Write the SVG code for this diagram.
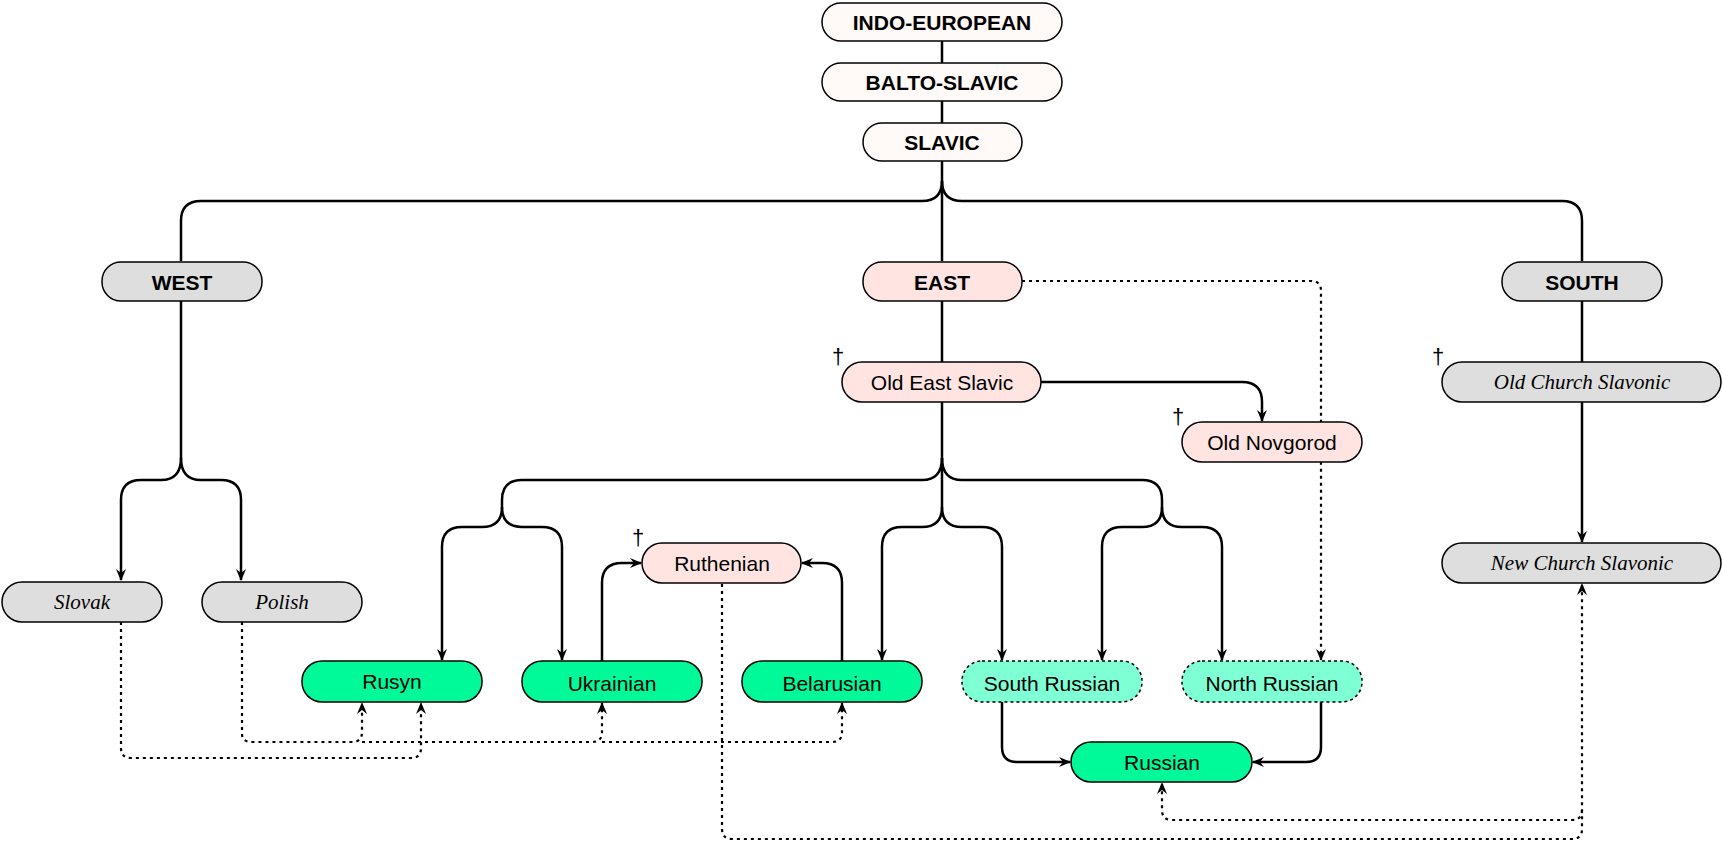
<svg xmlns="http://www.w3.org/2000/svg" width="1723" height="844" viewBox="0 0 1723 844">
<style>
rect{stroke:#000;stroke-width:1.5}
.top{fill:#fff9f7}.pk{fill:#ffe4e1}.gr{fill:#dedede}.gn{fill:#00fa9a}.aq{fill:#7fffd4;stroke-dasharray:3,3}
text{font-family:"Liberation Sans",Arial,sans-serif;font-size:21px;text-anchor:middle;dominant-baseline:central}
.b{font-weight:bold}
.i{font-family:"Liberation Serif","Times New Roman",serif;font-style:italic}
.d{font-size:22px;text-anchor:start}
.c path,.c line{fill:none;stroke:#000;stroke-width:2.5}
.c .ds{stroke-dasharray:3,4;stroke-width:2.2}
</style>
<defs>
<marker id="a" viewBox="0 0 12 10" refX="11" refY="5" markerWidth="12" markerHeight="10" markerUnits="userSpaceOnUse" orient="auto">
<path d="M0,0 L12,5 L0,10 L4,5 Z" fill="#000"/>
</marker>
</defs>
<g class="c">
<line x1="942" y1="41" x2="942" y2="63"/>
<line x1="942" y1="101" x2="942" y2="123"/>
<line x1="942" y1="161" x2="942" y2="261"/>
<path d="M942,181 q0,20 -20,20 H201 q-20,0 -20,20 V261"/>
<path d="M942,181 q0,20 20,20 H1562 q20,0 20,20 V261"/>
<line x1="942" y1="301" x2="942" y2="362"/>
<path d="M181,301 V458 q0,22 -20,22 h-20 q-20,0 -20,20 V580" marker-end="url(#a)"/>
<path d="M181,458 q0,22 20,22 h20 q20,0 20,20 V580" marker-end="url(#a)"/>
<path d="M1041,382 H1242 q20,0 20,20 V421" marker-end="url(#a)"/>
<line x1="942" y1="402" x2="942" y2="507"/>
<path d="M942,458 q0,22 -20,22 H522 q-20,0 -20,20 V507"/>
<path d="M942,458 q0,22 20,22 H1142 q20,0 20,20 V507"/>
<path d="M502,507 q0,20 -20,20 h-20 q-20,0 -20,20 V660" marker-end="url(#a)"/>
<path d="M502,507 q0,20 20,20 h20 q20,0 20,20 V660" marker-end="url(#a)"/>
<path d="M942,507 q0,20 -20,20 h-20 q-20,0 -20,20 V660" marker-end="url(#a)"/>
<path d="M942,507 q0,20 20,20 h20 q20,0 20,20 V660" marker-end="url(#a)"/>
<path d="M1162,507 q0,20 -20,20 h-20 q-20,0 -20,20 V660" marker-end="url(#a)"/>
<path d="M1162,507 q0,20 20,20 h20 q20,0 20,20 V660" marker-end="url(#a)"/>
<path d="M602,661 V583 q0,-20 20,-20 H641" marker-end="url(#a)"/>
<path d="M842,661 V583 q0,-20 -20,-20 H802" marker-end="url(#a)"/>
<path d="M1002,702 V747 q0,15 15,15 H1070" marker-end="url(#a)"/>
<path d="M1321,702 V747 q0,15 -15,15 H1253" marker-end="url(#a)"/>
<line x1="1582" y1="301" x2="1582" y2="362"/>
<line x1="1582" y1="402" x2="1582" y2="542" marker-end="url(#a)"/>
<path class="ds" d="M1022,281 H1311 q10,0 10,10 V660" marker-end="url(#a)"/>
<path class="ds" d="M121,622 V748 q0,10 10,10 H411 q10,0 10,-10 V703" marker-end="url(#a)"/>
<path class="ds" d="M242,622 V734 q0,8 10,8 H352 q10,0 10,-10 V703" marker-end="url(#a)"/>
<path class="ds" d="M362,742 H592 q10,0 10,-10 V703" marker-end="url(#a)"/>
<path class="ds" d="M602,742 H832 q10,0 10,-10 V703" marker-end="url(#a)"/>
<path class="ds" d="M722,584 V829 q0,10 10,10 H1572 q10,0 10,-10 V584" marker-end="url(#a)"/>
<path class="ds" d="M1582,810 q0,10 -10,10 H1172 q-10,0 -10,-10 V783" marker-end="url(#a)"/>
</g>
<g id="indo-european"><rect class="top" x="822" y="3" width="240" height="38" rx="19"/><text class="b" x="942" y="22">INDO-EUROPEAN</text></g>
<g id="balto-slavic"><rect class="top" x="822" y="63" width="240" height="38" rx="19"/><text class="b" x="942" y="82">BALTO-SLAVIC</text></g>
<g id="slavic"><rect class="top" x="863" y="123" width="159" height="38" rx="19"/><text class="b" x="942" y="142">SLAVIC</text></g>
<g id="west"><rect class="gr" x="102" y="262" width="160" height="39" rx="19"/><text class="b" x="182" y="282">WEST</text></g>
<g id="east"><rect class="pk" x="863" y="262" width="159" height="39" rx="19"/><text class="b" x="942" y="282">EAST</text></g>
<g id="south"><rect class="gr" x="1502" y="262" width="160" height="39" rx="19"/><text class="b" x="1582" y="282">SOUTH</text></g>
<g id="old-east-slavic"><rect class="pk" x="842" y="362" width="199" height="40" rx="20"/><text x="942" y="382">Old East Slavic</text><text class="d" x="832" y="356">†</text></g>
<g id="old-novgorod"><rect class="pk" x="1182" y="422" width="180" height="40" rx="20"/><text x="1272" y="442">Old Novgorod</text><text class="d" x="1172" y="416">†</text></g>
<g id="old-church-slavonic"><rect class="gr" x="1442" y="362" width="279" height="40" rx="20"/><text class="i" x="1582" y="382">Old Church Slavonic</text><text class="d" x="1432" y="356">†</text></g>
<g id="new-church-slavonic"><rect class="gr" x="1442" y="543" width="279" height="40" rx="20"/><text class="i" x="1582" y="563">New Church Slavonic</text></g>
<g id="slovak"><rect class="gr" x="2" y="582" width="160" height="40" rx="20"/><text class="i" x="82" y="602">Slovak</text></g>
<g id="polish"><rect class="gr" x="202" y="582" width="160" height="40" rx="20"/><text class="i" x="282" y="602">Polish</text></g>
<g id="ruthenian"><rect class="pk" x="642" y="543" width="159" height="40" rx="20"/><text x="722" y="563">Ruthenian</text><text class="d" x="632" y="537">†</text></g>
<g id="rusyn"><rect class="gn" x="302" y="661" width="180" height="41" rx="20"/><text x="392" y="681">Rusyn</text></g>
<g id="ukrainian"><rect class="gn" x="522" y="661" width="180" height="41" rx="20"/><text x="612" y="683">Ukrainian</text></g>
<g id="belarusian"><rect class="gn" x="742" y="661" width="180" height="41" rx="20"/><text x="832" y="683">Belarusian</text></g>
<g id="south-russian"><rect class="aq" x="962" y="661" width="180" height="41" rx="20"/><text x="1052" y="683">South Russian</text></g>
<g id="north-russian"><rect class="aq" x="1182" y="661" width="180" height="41" rx="20"/><text x="1272" y="683">North Russian</text></g>
<g id="russian"><rect class="gn" x="1071" y="742" width="181" height="40" rx="20"/><text x="1162" y="762">Russian</text></g>
</svg>
